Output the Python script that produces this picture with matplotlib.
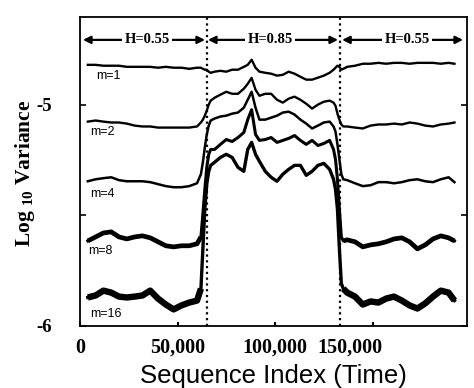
import numpy as np
import matplotlib
matplotlib.use("Agg")
import matplotlib.pyplot as plt
from matplotlib.transforms import ScaledTranslation

# ---------------- data ----------------
# sequence index, in thousands
x_thousands = [4, 8, 12, 16, 20, 24, 28, 32, 36, 40, 44, 48, 52, 56, 60,
               62, 63, 64, 65, 66, 67,
               69, 72, 75, 78, 81, 84, 86, 88, 90, 92, 95, 98, 101, 104, 107, 110,
               113, 116, 119, 122, 125, 128, 130,
               131, 132, 133, 134, 135,
               137, 141, 145, 149, 153, 157, 161, 165, 169, 173, 177, 181, 185, 189, 192]

m1 = [-4.820, -4.820, -4.824, -4.824, -4.824, -4.829, -4.829, -4.829, -4.829, -4.833,
      -4.829, -4.833, -4.833, -4.838, -4.833,
      -4.833, -4.838, -4.842, -4.842, -4.851, -4.856,
      -4.851, -4.847, -4.851, -4.842, -4.842, -4.829, -4.820, -4.797, -4.833, -4.851,
      -4.856, -4.860, -4.869, -4.865, -4.851, -4.860, -4.874, -4.887, -4.887, -4.878,
      -4.869, -4.856, -4.842,
      -4.833, -4.824, -4.829, -4.842, -4.838,
      -4.829, -4.824, -4.815, -4.815, -4.811, -4.815, -4.811, -4.811, -4.815, -4.811,
      -4.811, -4.811, -4.815, -4.811, -4.815]

m2 = [-5.077, -5.072, -5.077, -5.081, -5.081, -5.086, -5.095, -5.099, -5.099, -5.104,
      -5.104, -5.104, -5.104, -5.104, -5.099,
      -5.081, -5.068, -5.050, -5.027, -5.000, -4.982,
      -4.969, -4.955, -4.942, -4.951, -4.951, -4.928, -4.906, -4.879, -4.933, -4.960,
      -4.951, -4.951, -4.978, -4.991, -4.973, -4.964, -4.978, -4.996, -5.018, -5.000,
      -4.987, -4.982, -4.991,
      -5.005, -5.041, -5.068, -5.090, -5.099,
      -5.099, -5.104, -5.108, -5.095, -5.090, -5.090, -5.086, -5.090, -5.081, -5.086,
      -5.095, -5.099, -5.090, -5.086, -5.081]

m4 = [-5.347, -5.338, -5.333, -5.329, -5.342, -5.347, -5.347, -5.347, -5.351, -5.360,
      -5.369, -5.374, -5.374, -5.369, -5.356,
      -5.315, -5.261, -5.194, -5.135, -5.095, -5.072,
      -5.063, -5.054, -5.050, -5.041, -5.036, -5.014, -4.978, -4.942, -5.014, -5.068,
      -5.068, -5.059, -5.050, -5.036, -5.032, -5.045, -5.068, -5.086, -5.108, -5.095,
      -5.081, -5.077, -5.099,
      -5.122, -5.180, -5.248, -5.315, -5.338,
      -5.342, -5.356, -5.369, -5.365, -5.351, -5.351, -5.356, -5.351, -5.342, -5.338,
      -5.347, -5.351, -5.338, -5.329, -5.351]

m8 = [-5.617, -5.599, -5.581, -5.576, -5.599, -5.608, -5.599, -5.594, -5.603, -5.621,
      -5.639, -5.644, -5.639, -5.639, -5.630,
      -5.599, -5.495, -5.383, -5.284, -5.225, -5.203,
      -5.203, -5.180, -5.158, -5.167, -5.149, -5.126, -5.068, -5.023, -5.135, -5.162,
      -5.158, -5.149, -5.171, -5.162, -5.153, -5.140, -5.162, -5.180, -5.162, -5.185,
      -5.176, -5.162, -5.203,
      -5.248, -5.338, -5.473, -5.599, -5.617,
      -5.612, -5.621, -5.644, -5.635, -5.630, -5.621, -5.608, -5.603, -5.621, -5.653,
      -5.635, -5.608, -5.594, -5.603, -5.617]

m16 = [-5.873, -5.864, -5.842, -5.851, -5.869, -5.873, -5.869, -5.864, -5.842, -5.878,
       -5.905, -5.927, -5.909, -5.896, -5.887,
       -5.833, -5.653, -5.473, -5.360, -5.302, -5.275,
       -5.261, -5.239, -5.225, -5.239, -5.284, -5.302, -5.203, -5.171, -5.225, -5.257,
       -5.302, -5.329, -5.347, -5.315, -5.293, -5.275, -5.275, -5.320, -5.302, -5.275,
       -5.266, -5.293, -5.338,
       -5.383, -5.473, -5.653, -5.810, -5.833,
       -5.851, -5.869, -5.905, -5.891, -5.896, -5.878, -5.869, -5.887, -5.909, -5.923,
       -5.900, -5.869, -5.842, -5.851, -5.887]

series_labels = ["m=1", "m=2", "m=4", "m=8", "m=16"]
label_x = [8200, 5100, 5100, 4100, 5100]
label_y = [-4.869, -5.122, -5.405, -5.662, -5.946]

boundaries = [65100, 133300]
regime_labels = ["H=0.55", "H=0.85", "H=0.55"]
regime_spans = [(1500, 64100), (65600, 132300), (134400, 196400)]
regime_text_x = [34400, 97400, 167700]
regime_y = -4.707

xticks = [0, 50000, 100000, 150000]
xtick_labels = ["0", "50,000", "100,000", "150,000"]
yticks = [-6, -5.5, -5]
ytick_labels = ["-6", "", "-5"]

# ---------------- plot ----------------
plt.rcParams["mathtext.fontset"] = "custom"
plt.rcParams["mathtext.rm"] = "Liberation Serif:bold"
plt.rcParams["mathtext.default"] = "rm"

fig = plt.figure(figsize=(4.74, 3.88), dpi=100)
ax = fig.add_axes([0.1688, 0.161, 0.8165, 0.7943])

x = np.array(x_thousands) * 1000
all_series = [m1, m2, m4, m8, m16]
base_widths = [1.7, 1.7, 1.8, 2.2, 2.4]
flat_widths = [1.7, 1.7, 1.8, 3.4, 4.6]
n_left = 16      # points of the first H=0.55 segment
n_right = 48     # start of the last H=0.55 segment
for vals, lw, fw in zip(all_series, base_widths, flat_widths):
    v = np.array(vals)
    ax.plot(x, v, color="black", lw=lw, solid_joinstyle="round")
    if fw > lw:  # noisier, thicker trace in the low-H segments
        ax.plot(x[:n_left], v[:n_left], color="black", lw=fw,
                solid_joinstyle="round", solid_capstyle="butt")
        ax.plot(x[n_right:], v[n_right:], color="black", lw=fw,
                solid_joinstyle="round", solid_capstyle="butt")

for b in boundaries:
    ax.axvline(b, color="black", ls=(0, (1, 1.6)), lw=1.6)

for lab, lx, ly in zip(series_labels, label_x, label_y):
    ax.text(lx, ly, lab, ha="left", va="center", fontsize=9,
            family="Liberation Sans")

for lab, (x0, x1), tx in zip(regime_labels, regime_spans, regime_text_x):
    ax.annotate("", xy=(x1, regime_y), xytext=(x0, regime_y),
                arrowprops=dict(arrowstyle="<|-|>", color="black", lw=1.6,
                                mutation_scale=11, shrinkA=0, shrinkB=0))
    ax.text(tx, regime_y, lab, ha="center", va="center", fontsize=10.5,
            fontweight="bold", family="Liberation Serif",
            bbox=dict(fc="white", ec="none", pad=1.5))

ax.set_xlim(0, 198450)
ax.set_ylim(-6.0, -4.605)

ax.set_xticks(xticks)
ax.set_xticklabels(xtick_labels, fontsize=14.5, fontweight="bold",
                   family="Liberation Serif")
ax.set_yticks(yticks)
ax.set_yticklabels(ytick_labels, fontsize=13.5, fontweight="bold",
                   family="Liberation Serif")
ax.tick_params(axis="x", direction="in", length=3, width=1.5, pad=9)
ax.tick_params(axis="y", direction="in", length=4, width=1.2, pad=20,
               right=True)

# the last x tick label sits left of its tick in the reference
lbl = ax.get_xticklabels()[3]
lbl.set_transform(lbl.get_transform() + ScaledTranslation(-0.23, 0, fig.dpi_scale_trans))

for s in ax.spines.values():
    s.set_linewidth(1.3)

ax.set_xlabel("Sequence Index (Time)", fontsize=18.5, family="Liberation Sans",
              labelpad=4)
ax.set_ylabel(r"Log $_{10}$ Variance", fontsize=15.5, fontweight="bold",
              family="Liberation Serif")
ax.yaxis.set_label_coords(-0.112, 0.493)

fig.savefig("out.png", dpi=100)
